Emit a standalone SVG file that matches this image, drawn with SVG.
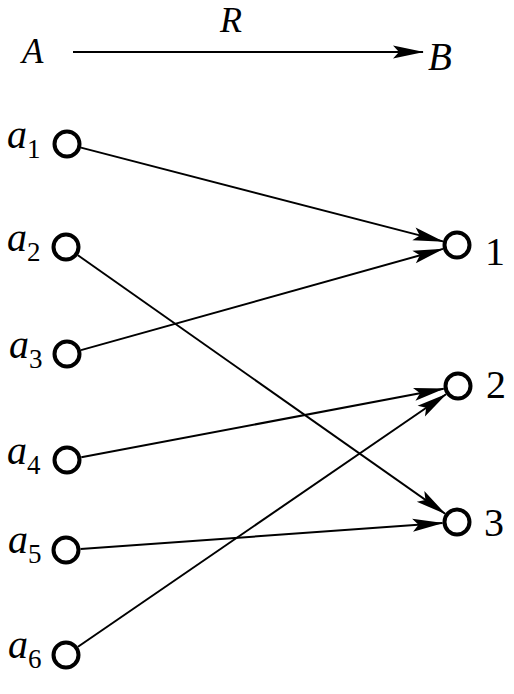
<svg xmlns="http://www.w3.org/2000/svg" width="514" height="694" viewBox="0 0 514 694">
<defs>
<style>
.node{fill:none;stroke:#000;stroke-width:4}
.edge{stroke:#000;stroke-width:2;fill:none}
text{font-family:'Liberation Serif','DejaVu Serif','Times New Roman',serif;fill:#000}
</style>
<marker id="arr" markerUnits="userSpaceOnUse" markerWidth="32" markerHeight="14" refX="30" refY="6.5" orient="auto" overflow="visible">
<path d="M31,6.5 L0,0 L6,6.5 L0,13 Z" fill="#000"/>
</marker>
</defs>
<rect width="514" height="694" fill="#fff"/>
<g id="header" font-style="italic">
<text x="22" y="63" font-size="35">A</text>
<text x="220" y="32" font-size="36">R</text>
<text x="428" y="70" font-size="39">B</text>
</g>
<g id="connectors">
<line class="edge" x1="73" y1="52" x2="423" y2="52" marker-end="url(#arr)"/>
<line class="edge" x1="81" y1="147.6" x2="443" y2="241.4" marker-end="url(#arr)"/>
<line class="edge" x1="77.9" y1="255.3" x2="445.1" y2="513.7" marker-end="url(#arr)"/>
<line class="edge" x1="81" y1="350.1" x2="443" y2="248.9" marker-end="url(#arr)"/>
<line class="edge" x1="81.3" y1="457.3" x2="443.7" y2="388.7" marker-end="url(#arr)"/>
<line class="edge" x1="80.5" y1="549" x2="442.5" y2="523" marker-end="url(#arr)"/>
<line class="edge" x1="78" y1="646.8" x2="446" y2="394.2" marker-end="url(#arr)"/>
</g>
<g id="left">
<g id="a1"><circle class="node" cx="67" cy="144" r="12.5"/><text x="7" y="148" font-size="40"><tspan font-style="italic">a</tspan><tspan font-size="27" dy="10">1</tspan></text></g>
<g id="a2"><circle class="node" cx="66" cy="247" r="12.5"/><text x="7" y="251" font-size="40"><tspan font-style="italic">a</tspan><tspan font-size="27" dy="10">2</tspan></text></g>
<g id="a3"><circle class="node" cx="67" cy="354" r="12.5"/><text x="9" y="358" font-size="40"><tspan font-style="italic">a</tspan><tspan font-size="27" dy="10">3</tspan></text></g>
<g id="a4"><circle class="node" cx="67" cy="460" r="12.5"/><text x="7" y="464" font-size="40"><tspan font-style="italic">a</tspan><tspan font-size="27" dy="10">4</tspan></text></g>
<g id="a5"><circle class="node" cx="66" cy="550" r="12.5"/><text x="8" y="553" font-size="40"><tspan font-style="italic">a</tspan><tspan font-size="27" dy="10">5</tspan></text></g>
<g id="a6"><circle class="node" cx="66" cy="655" r="12.5"/><text x="8" y="658" font-size="40"><tspan font-style="italic">a</tspan><tspan font-size="27" dy="10">6</tspan></text></g>
</g>
<g id="right">
<g id="b1"><circle class="node" cx="457" cy="245" r="12.5"/><text x="485" y="265" font-size="40">1</text></g>
<g id="b2"><circle class="node" cx="458" cy="386" r="12.5"/><text x="486" y="398" font-size="40">2</text></g>
<g id="b3"><circle class="node" cx="457" cy="522" r="12.5"/><text x="484" y="536" font-size="40">3</text></g>
</g>
</svg>
